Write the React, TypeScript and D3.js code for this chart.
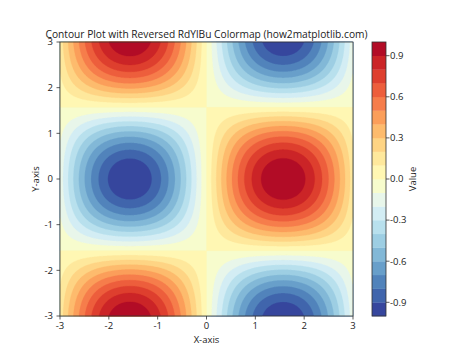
import React from "react";
import * as d3 from "d3";

// Contour levels (matplotlib auto: 20 levels -> step 0.1 from -1 to 1)
const levels = [-1.0, -0.9, -0.8, -0.7, -0.6, -0.5, -0.4, -0.3, -0.2, -0.1, 0.0, 0.1, 0.2, 0.3, 0.4, 0.5, 0.6, 0.7, 0.8, 0.9, 1.0];
const xTicks = [-3, -2, -1, 0, 1, 2, 3];
const yTicks = [-3, -2, -1, 0, 1, 2, 3];
const cbTicks = [-0.9, -0.6, -0.3, 0.0, 0.3, 0.6, 0.9];
const cbTickLabels = ["-0.9", "-0.6", "-0.3", "0.0", "0.3", "0.6", "0.9"];
const xDomain = [-3, 3];
const yDomain = [-3, 3];
// matplotlib RdYlBu anchor colours (reversed below)
const rdylbu = ["#a50026", "#d73027", "#f46d43", "#fdae61", "#fee090", "#ffffbf", "#e0f3f8", "#abd9e9", "#74add1", "#4575b4", "#313695"];

const surface = (x: number, y: number) => Math.sin(x) * Math.cos(y);

const W = 474, H = 355;
const left = 60, right = 353, top = 42, bottom = 316;
const pw = right - left, ph = bottom - top;
const cbLeft = 372, cbRight = 386;
const FONT = "'Open Sans', 'Noto Sans', sans-serif";
const TXT = "#222";

const cmapR = d3.piecewise(d3.interpolateRgb, rdylbu.slice().reverse());

export default function App() {
  const xScale = d3.scaleLinear().domain(xDomain).range([left, right]);
  const yScale = d3.scaleLinear().domain(yDomain).range([bottom, top]);
  const vmin = levels[0], vmax = levels[levels.length - 1];
  const colorOf = (v: number) => cmapR((v - vmin) / (vmax - vmin));

  const nx = pw, ny = ph;
  const values = new Array(nx * ny);
  for (let j = 0; j < ny; j++) {
    const y = yScale.invert(top + j + 0.5);
    for (let i = 0; i < nx; i++) {
      const x = xScale.invert(left + i + 0.5);
      values[i + j * nx] = surface(x, y);
    }
  }
  const bandLower = levels.slice(0, -1);
  const contours = d3.contours().size([nx, ny]).thresholds(bandLower)(values);
  const path = d3.geoPath();

  const cbScale = d3.scaleLinear().domain([vmin, vmax]).range([bottom, top]);
  const fmt = (t: number) => (t < 0 ? "-" + Math.abs(t) : String(t));

  return (
    <svg width={W} height={H} style={{ position: "absolute", left: 0, top: 0 }} fontFamily={FONT}>
      <rect width={W} height={H} fill="#fff" />
      <text x={(left + right) / 2} y={38} textAnchor="middle" fontSize={11.5} fill={TXT}
        textLength={322} lengthAdjust="spacingAndGlyphs">
        Contour Plot with Reversed RdYlBu Colormap (how2matplotlib.com)
      </text>
      <g transform={`translate(${left},${top})`}>
        {contours.map((c, k) => {
          const col = colorOf(bandLower[k] + (levels[k + 1] - levels[k]) / 2);
          return <path key={k} d={path(c as any) || ""} fill={col} stroke={col} strokeWidth={0.3} />;
        })}
      </g>
      <rect x={left} y={top} width={pw} height={ph} fill="none" stroke="#333" strokeWidth={0.8} />
      {xTicks.map((t) => (
        <g key={"x" + t}>
          <line x1={xScale(t)} x2={xScale(t)} y1={bottom} y2={bottom + 3.5} stroke="#333" strokeWidth={0.8} />
          <text x={xScale(t)} y={329} textAnchor="middle" fontSize={9.5} fill={TXT}>{fmt(t)}</text>
        </g>
      ))}
      {yTicks.map((t) => (
        <g key={"y" + t}>
          <line x1={left - 3.5} x2={left} y1={yScale(t)} y2={yScale(t)} stroke="#333" strokeWidth={0.8} />
          <text x={53} y={yScale(t) + 3.3} textAnchor="end" fontSize={9.5} fill={TXT}>{fmt(t)}</text>
        </g>
      ))}
      <text x={(left + right) / 2} y={343} textAnchor="middle" fontSize={9.5} fill={TXT}>X-axis</text>
      <text transform={`translate(38.5,${(top + bottom) / 2}) rotate(-90)`} textAnchor="middle" fontSize={9.5} fill={TXT}>Y-axis</text>
      {bandLower.map((lv, k) => (
        <rect key={"cb" + k} x={cbLeft} width={cbRight - cbLeft} y={cbScale(levels[k + 1])} height={cbScale(lv) - cbScale(levels[k + 1]) + 0.3}
          fill={colorOf(lv + (levels[k + 1] - lv) / 2)} />
      ))}
      <rect x={cbLeft} y={top} width={cbRight - cbLeft} height={ph} fill="none" stroke="#333" strokeWidth={0.8} />
      {cbTicks.map((t, k) => (
        <g key={"cbt" + k}>
          <line x1={cbRight} x2={cbRight + 3.5} y1={cbScale(t)} y2={cbScale(t)} stroke="#333" strokeWidth={0.8} />
          <text x={390} y={cbScale(t) + 3.3} fontSize={9.5} fill={TXT}>{cbTickLabels[k]}</text>
        </g>
      ))}
      <text transform={`translate(416,${(top + bottom) / 2}) rotate(-90)`} textAnchor="middle" fontSize={9.5} fill={TXT}>Value</text>
    </svg>
  );
}
